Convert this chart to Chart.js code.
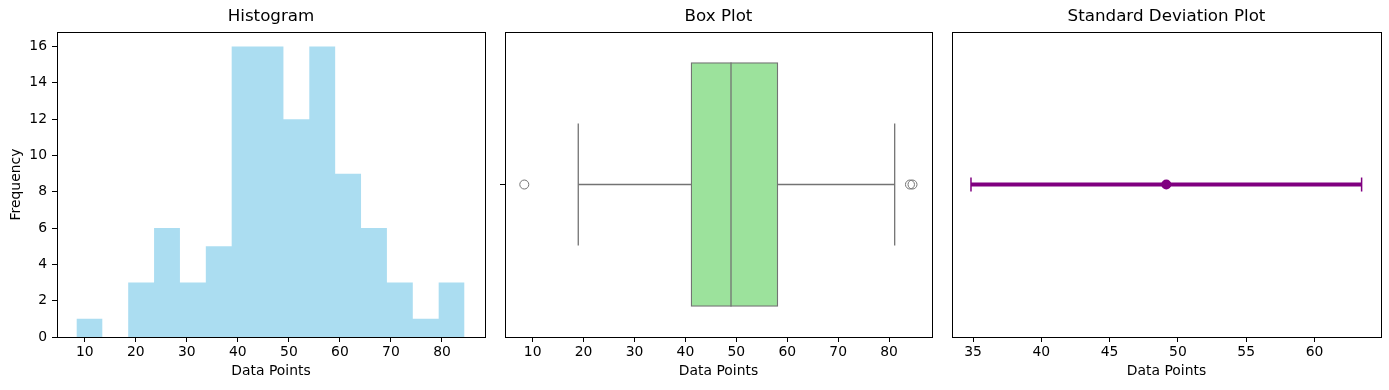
<!DOCTYPE html>
<html lang="en">
<head>
    <meta charset="UTF-8">
    <title>Histogram, Box Plot, Standard Deviation Plot</title>
    <script src="https://cdn.jsdelivr.net/npm/chart.js"></script>
    <style>
        body {
            margin: 0;
            background: #fff;
        }
        .panel {
            position: absolute;
            top: 0;
            height: 390px;
        }
        #histPanel { left: 0; width: 486px; }
        #boxPanel { left: 485px; width: 448px; }
        #stdPanel { left: 932px; width: 450px; }
    </style>
</head>
<body>
    <div id="histPanel" class="panel"><canvas id="chartHist"></canvas></div>
    <div id="boxPanel" class="panel"><canvas id="chartBox"></canvas></div>
    <div id="stdPanel" class="panel"><canvas id="chartStd"></canvas></div>

    <script>
        // Histogram: bin edges and counts
        const histBinEdges = [8.37, 13.44, 18.51, 23.58, 28.65, 33.72, 38.79, 43.86,
                              48.93, 54.00, 59.07, 64.14, 69.21, 74.28, 79.35, 84.42];
        const histCounts = [1, 0, 3, 6, 3, 5, 16, 16, 12, 16, 9, 6, 3, 1, 3];
        const histYTicks = [0, 2, 4, 6, 8, 10, 12, 14, 16];

        // Box plot: q1, median, q3, whiskers, outliers
        const boxQuartiles = [41.1, 48.95, 58.16];
        const boxWhiskers = [18.95, 81.1];
        const boxOutliers = [8.35, 84.1, 84.6];

        // Shared x ticks for histogram and box plot
        const dataTicks = [10, 20, 30, 40, 50, 60, 70, 80];

        // Standard deviation plot
        const stdMean = [49.15];
        const stdDev = [14.3];
        const stdTicks = [35, 40, 45, 50, 55, 60];

        Chart.defaults.font.family = "'DejaVu Sans', sans-serif";
        Chart.defaults.font.size = 13.9;
        Chart.defaults.color = '#000';
        Chart.defaults.animation = false;
        Chart.defaults.plugins.legend.display = false;
        Chart.defaults.plugins.tooltip.enabled = false;

        const boxLine = '#737373';
        const layoutOpts = { autoPadding: false, padding: { left: 0, top: 0, bottom: 0, right: 1 } };

        // black frame round the plot area, like matplotlib spines
        const framePlugin = {
            id: 'frame',
            afterDraw(chart) {
                const a = chart.chartArea;
                const ctx = chart.ctx;
                const l = Math.round(a.left) + 0.5;
                const r = Math.round(a.right) + 0.5;
                const t = Math.round(a.top) + 0.5;
                const b = Math.round(a.bottom) + 0.5;
                ctx.save();
                ctx.strokeStyle = '#000';
                ctx.lineWidth = 1;
                ctx.strokeRect(l, t, r - l, b - t);
                ctx.restore();
            }
        };

        function xAxis(min, max, ticks) {
            return {
                type: 'linear',
                min: min,
                max: max,
                offset: false,
                afterBuildTicks: s => { s.ticks = ticks.map(v => ({ value: v })); },
                afterFit: s => { s.height = 53; },
                grid: { offset: false, drawOnChartArea: false, drawTicks: true, tickLength: 5, color: '#000', lineWidth: 1 },
                border: { display: false },
                ticks: { padding: 2, color: '#000' },
                title: { display: true, text: 'Data Points', padding: { top: 0, bottom: 10 } }
            };
        }

        function titleOpts(text) {
            return {
                display: true,
                text: text,
                fullSize: false,
                color: '#000',
                font: { size: 16.7, weight: 'normal' },
                padding: { top: 7, bottom: 5 }
            };
        }

        // Histogram
        const histPoints = histBinEdges.map((e, i) => ({
            x: e,
            y: i < histCounts.length ? histCounts[i] : histCounts[histCounts.length - 1]
        }));

        new Chart(document.getElementById('chartHist'), {
            type: 'scatter',
            data: {
                datasets: [{
                    data: histPoints,
                    showLine: true,
                    stepped: 'before',
                    fill: 'origin',
                    backgroundColor: 'rgba(135, 206, 235, 0.7)',
                    borderColor: 'transparent',
                    borderWidth: 0,
                    pointRadius: 0
                }]
            },
            options: {
                responsive: true,
                maintainAspectRatio: false,
                layout: layoutOpts,
                plugins: { title: titleOpts('Histogram') },
                scales: {
                    x: xAxis(4.56, 88.43, dataTicks),
                    y: {
                        type: 'linear',
                        min: 0,
                        max: 16.8,
                        afterBuildTicks: s => { s.ticks = histYTicks.map(v => ({ value: v })); },
                        afterFit: s => { s.width = 57; },
                        grid: { drawOnChartArea: false, drawTicks: true, tickLength: 5, color: '#000', lineWidth: 1 },
                        border: { display: false },
                        ticks: { padding: 5, color: '#000' },
                        title: { display: true, text: 'Frequency', padding: { top: 8, bottom: 0 } }
                    }
                }
            },
            plugins: [framePlugin]
        });

        // Box plot
        const [q1, med, q3] = boxQuartiles;
        const boxSegments = [
            [{ x: boxWhiskers[0], y: 0 }, { x: q1, y: 0 }],
            [{ x: q3, y: 0 }, { x: boxWhiskers[1], y: 0 }],
            [{ x: boxWhiskers[0], y: -0.2 }, { x: boxWhiskers[0], y: 0.2 }],
            [{ x: boxWhiskers[1], y: -0.2 }, { x: boxWhiskers[1], y: 0.2 }],
            [{ x: med, y: -0.4 }, { x: med, y: 0.4 }]
        ];

        const boxDatasets = boxSegments.map(seg => ({
            data: seg,
            showLine: true,
            borderColor: boxLine,
            borderWidth: 1.3,
            pointRadius: 0,
            order: 1
        }));
        boxDatasets.push({
            data: boxOutliers.map(v => ({ x: v, y: 0 })),
            pointStyle: 'circle',
            pointRadius: 4.5,
            pointBorderWidth: 1,
            pointBorderColor: boxLine,
            pointBackgroundColor: 'transparent',
            order: 1
        });
        boxDatasets.push({
            type: 'bar',
            indexAxis: 'y',
            data: [{ x: [q1, q3], y: 0 }],
            backgroundColor: '#9ce29c',
            borderColor: boxLine,
            borderWidth: 1.3,
            borderSkipped: false,
            barThickness: 244,
            order: 2
        });

        new Chart(document.getElementById('chartBox'), {
            type: 'scatter',
            data: { datasets: boxDatasets },
            options: {
                responsive: true,
                maintainAspectRatio: false,
                layout: layoutOpts,
                plugins: { title: titleOpts('Box Plot') },
                scales: {
                    x: xAxis(4.56, 88.43, dataTicks),
                    y: {
                        type: 'linear',
                        min: -0.5,
                        max: 0.5,
                        offset: false,
                        afterBuildTicks: s => { s.ticks = [{ value: 0 }]; },
                        afterFit: s => { s.width = 20; },
                        grid: { offset: false, drawOnChartArea: false, drawTicks: true, tickLength: 5, color: '#000', lineWidth: 1 },
                        border: { display: false },
                        ticks: { padding: 0, callback: () => '' }
                    }
                }
            },
            plugins: [framePlugin]
        });

        // Standard deviation plot
        const lo = stdMean[0] - stdDev[0];
        const hi = stdMean[0] + stdDev[0];

        new Chart(document.getElementById('chartStd'), {
            type: 'scatter',
            data: {
                datasets: [
                    {
                        data: [{ x: stdMean[0], y: 0 }],
                        pointRadius: 5,
                        pointBackgroundColor: 'purple',
                        pointBorderColor: 'purple',
                        pointBorderWidth: 0
                    },
                    {
                        data: [{ x: lo, y: 0 }, { x: hi, y: 0 }],
                        showLine: true,
                        borderColor: 'purple',
                        borderWidth: 4,
                        pointStyle: 'line',
                        pointRotation: 90,
                        pointRadius: 7,
                        pointBorderWidth: 1.5,
                        pointBorderColor: 'purple'
                    }
                ]
            },
            options: {
                responsive: true,
                maintainAspectRatio: false,
                layout: layoutOpts,
                plugins: { title: titleOpts('Standard Deviation Plot') },
                scales: {
                    x: xAxis(33.46, 64.87, stdTicks),
                    y: {
                        type: 'linear',
                        min: -1,
                        max: 1,
                        afterBuildTicks: s => { s.ticks = []; },
                        afterFit: s => { s.width = 20; },
                        grid: { display: false },
                        border: { display: false },
                        ticks: { display: false }
                    }
                }
            },
            plugins: [framePlugin]
        });
    </script>
</body>
</html>
